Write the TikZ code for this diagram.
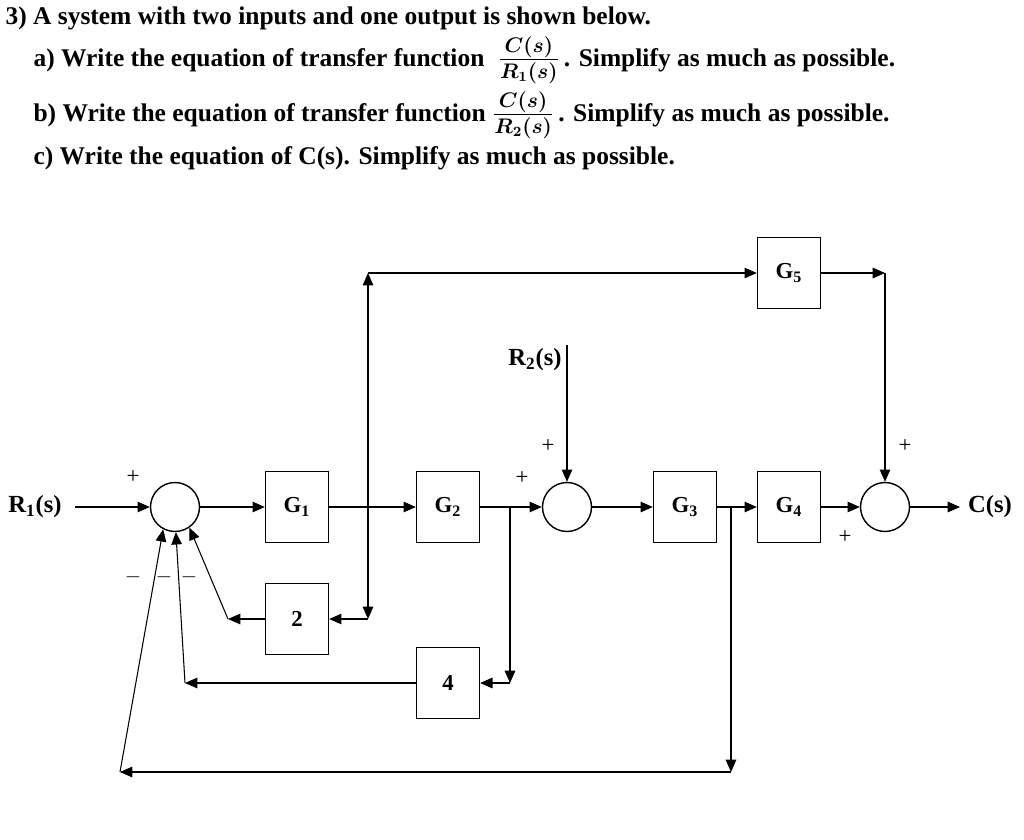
\documentclass[tikz,border=0pt]{standalone}
\usepackage{fontspec}
\usepackage{amsmath,bm}
\setmainfont{Liberation Serif}
\usetikzlibrary{arrows.meta}
\newcommand{\myfr}[2]{{\fontsize{17}{17}\selectfont$\boldsymbol{\frac{#1}{#2}}$}}
\begin{document}
\begin{tikzpicture}[x=0.02cm,y=-0.02cm,
 blk/.style={draw,thick,minimum width=1.26cm,minimum height=1.42cm,inner sep=0pt,font=\bfseries\fontsize{13}{13}\selectfont},
 sm/.style={draw,thick,circle,minimum size=0.98cm,inner sep=0pt},
 ar/.style={-{Triangle[length=7pt,width=6pt]}},
 txt/.style={font=\bfseries\fontsize{14.5}{15}\selectfont,anchor=west,inner sep=0pt},
 pm/.style={font=\fontsize{13}{13}\selectfont,inner sep=0pt},
 every path/.style={line width=0.6pt}]
\useasboundingbox (0,0) rectangle (1024,839);
% header
\node[txt] (h0) at (5,18) {3) A system with two inputs and one output is shown below.};
\node[txt] (ha) at (33,60) {a) Write the equation of transfer function \;\myfr{C(s)}{R_1(s)}\,. Simplify as much as possible.};
\node[txt] (hb) at (33,115) {b) Write the equation of transfer function \myfr{C(s)}{R_2(s)}\,. Simplify as much as possible.};
\node[txt] (hc) at (33,158) {c) Write the equation of C(s). Simplify as much as possible.};
% blocks
\node[sm] (s1) at (175,507) {};
\node[sm] (s2) at (567,507) {};
\node[sm] (s3) at (885,507) {};
\node[blk] (g1) at (297,507) {G\textsubscript{1}};
\node[blk] (g2) at (448,507) {G\textsubscript{2}};
\node[blk] (g3) at (685,507) {G\textsubscript{3}};
\node[blk] (g4) at (789,507) {G\textsubscript{4}};
\node[blk] (g5) at (789,273) {G\textsubscript{5}};
\node[blk] (b2) at (297,619) {2};
\node[blk] (b4) at (448,683) {4};
\node[font=\bfseries\fontsize{14}{14}\selectfont] (r1) at (35,507) {R\textsubscript{1}(s)};
\node[font=\bfseries\fontsize{14}{14}\selectfont] (r2) at (535,360) {R\textsubscript{2}(s)};
\node[font=\bfseries\fontsize{14}{14}\selectfont] (c) at (990,507) {C(s)};
% coordinates
\coordinate (r1e) at (75,507);
\coordinate (p1) at (368,507);
\coordinate (t1) at (368,273);
\coordinate (d1) at (368,619);
\coordinate (l2) at (228,619);
\coordinate (p2) at (510,507);
\coordinate (d2) at (510,683);
\coordinate (l4) at (185,683);
\coordinate (p3) at (731,507);
\coordinate (d3) at (731,772);
\coordinate (l5) at (120,772);
\coordinate (r2s) at (567,345);
\coordinate (t5) at (885,273);
\coordinate (ce) at (960,507);
% connectors
\draw[ar] (r1e) -- (s1);
\draw[ar] (s1) -- (g1);
\draw[ar] (g1) -- (g2);
\draw[ar] (p1) -- (t1);
\draw[ar] (t1) -- (g5);
\draw[ar] (p1) -- (d1);
\draw[ar] (d1) -- (b2);
\draw[ar] (b2) -- (l2);
\draw[ar] (l2) -- (s1.-55);
\draw[ar] (g2) -- (s2);
\draw[ar] (p2) -- (d2);
\draw[ar] (d2) -- (b4);
\draw[ar] (b4) -- (l4);
\draw[ar] (l4) -- (s1.-88);
\draw[ar] (s2) -- (g3);
\draw[ar] (g3) -- (g4);
\draw[ar] (p3) -- (d3);
\draw[ar] (d3) -- (l5);
\draw[ar] (l5) -- (s1.-118);
\draw[ar] (r2s) -- (s2);
\draw[ar] (g4) -- (s3);
\draw[ar] (g5) -- (t5);
\draw[ar] (t5) -- (s3);
\draw[ar] (s3) -- (ce);
% signs
\node[pm] (m0) at (133,477) {+};
\node[pm] (m1) at (133,577) {$-$};
\node[pm] (m2) at (164,577) {$-$};
\node[pm] (m3) at (189,577) {$-$};
\node[pm] (m4) at (548,446) {+};
\node[pm] (m5) at (522,478) {+};
\node[pm] (m6) at (905,446) {+};
\node[pm] (m7) at (845,537) {+};
\end{tikzpicture}
\end{document}
